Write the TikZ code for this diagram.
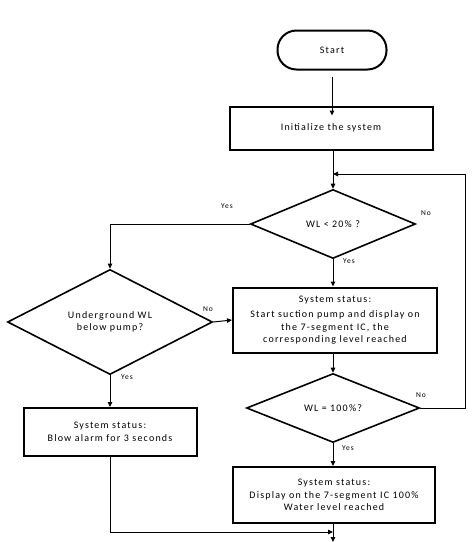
\documentclass[tikz,border=0pt]{standalone}
\usepackage{fontspec}
\setmainfont{Carlito}[LetterSpace=12]
\usetikzlibrary{shapes.geometric,arrows.meta}
\begin{document}
\begin{tikzpicture}[x=1pt,y=-1pt,
  box/.style={draw,line width=2pt,inner sep=0pt,align=center,font=\fontsize{10}{12.5}\selectfont},
  dia/.style={draw,diamond,line width=1.6pt,inner sep=0pt,align=center,font=\fontsize{10}{12.5}\selectfont},
  conn/.style={line width=1pt},
  arr/.style={conn,-{Triangle[length=5pt,width=4.5pt]}},
  lbl/.style={font=\fontsize{7.5}{8}\selectfont,inner sep=0pt}]
\useasboundingbox (0,0) rectangle (474,542);
\node[box,rounded corners=19pt,minimum width=109pt,minimum height=39pt] (start) at (332,50) {Start};
\node[box,minimum width=203pt,minimum height=43pt] (init) at (331,128) {Initialize the system};
\node[dia,minimum width=165pt,minimum height=69pt] (d1) at (333,224) {WL {<} 20\% ?};
\node[dia,minimum width=205pt,minimum height=101pt] (d2) at (110,322) {Underground WL\\below pump?};
\node[box,minimum width=204pt,minimum height=65pt] (proc) at (335,320) {System status:\\[3pt]Start suction pump  and display on\\the 7-segment IC, the\\corresponding level reached};
\node[dia,minimum width=173pt,minimum height=69pt] (d3) at (333,408) {WL = 100\%?};
\node[box,minimum width=173pt,minimum height=48pt] (blow) at (110,432) {System status:\\Blow alarm for 3 seconds};
\node[box,minimum width=202pt,minimum height=56pt] (disp) at (334,495) {System status:\\Display on the 7-segment IC 100\%\\Water level reached};
\coordinate (j1) at (333,174);
\coordinate (r1) at (465,174);
\coordinate (j2) at (333,532);
\coordinate (bot) at (333,542);
\draw[arr,shorten <=6pt,shorten >=-10pt] (start.south) -- (start.south |- init.north);
\draw[arr] (d1.north |- init.south) -- (d1.north);
\draw[arr] (d1.west) -| (d2.north);
\draw[arr] (d1.south) -- (d1.south |- proc.north);
\draw[arr] (d2.east) -- (proc.west);
\draw[arr] (d3.north |- proc.south) -- (d3.north);
\draw[arr] (d3.east) -| (r1) -- (j1);
\draw[arr] (d3.south) -- (d3.south |- disp.north);
\draw[arr] (d2.south) -- (blow.north);
\draw[arr] (blow.south) |- (j2);
\draw[arr] (bot |- disp.south) -- (bot);
\node[lbl] (l1) at (227,206) {Yes};
\node[lbl] (l2) at (426,213) {No};
\node[lbl] (l3) at (349,261) {Yes};
\node[lbl] (l4) at (208,309) {No};
\node[lbl] (l5) at (127,377) {Yes};
\node[lbl] (l6) at (421,395) {No};
\node[lbl] (l7) at (348,448) {Yes};
\end{tikzpicture}
\end{document}
